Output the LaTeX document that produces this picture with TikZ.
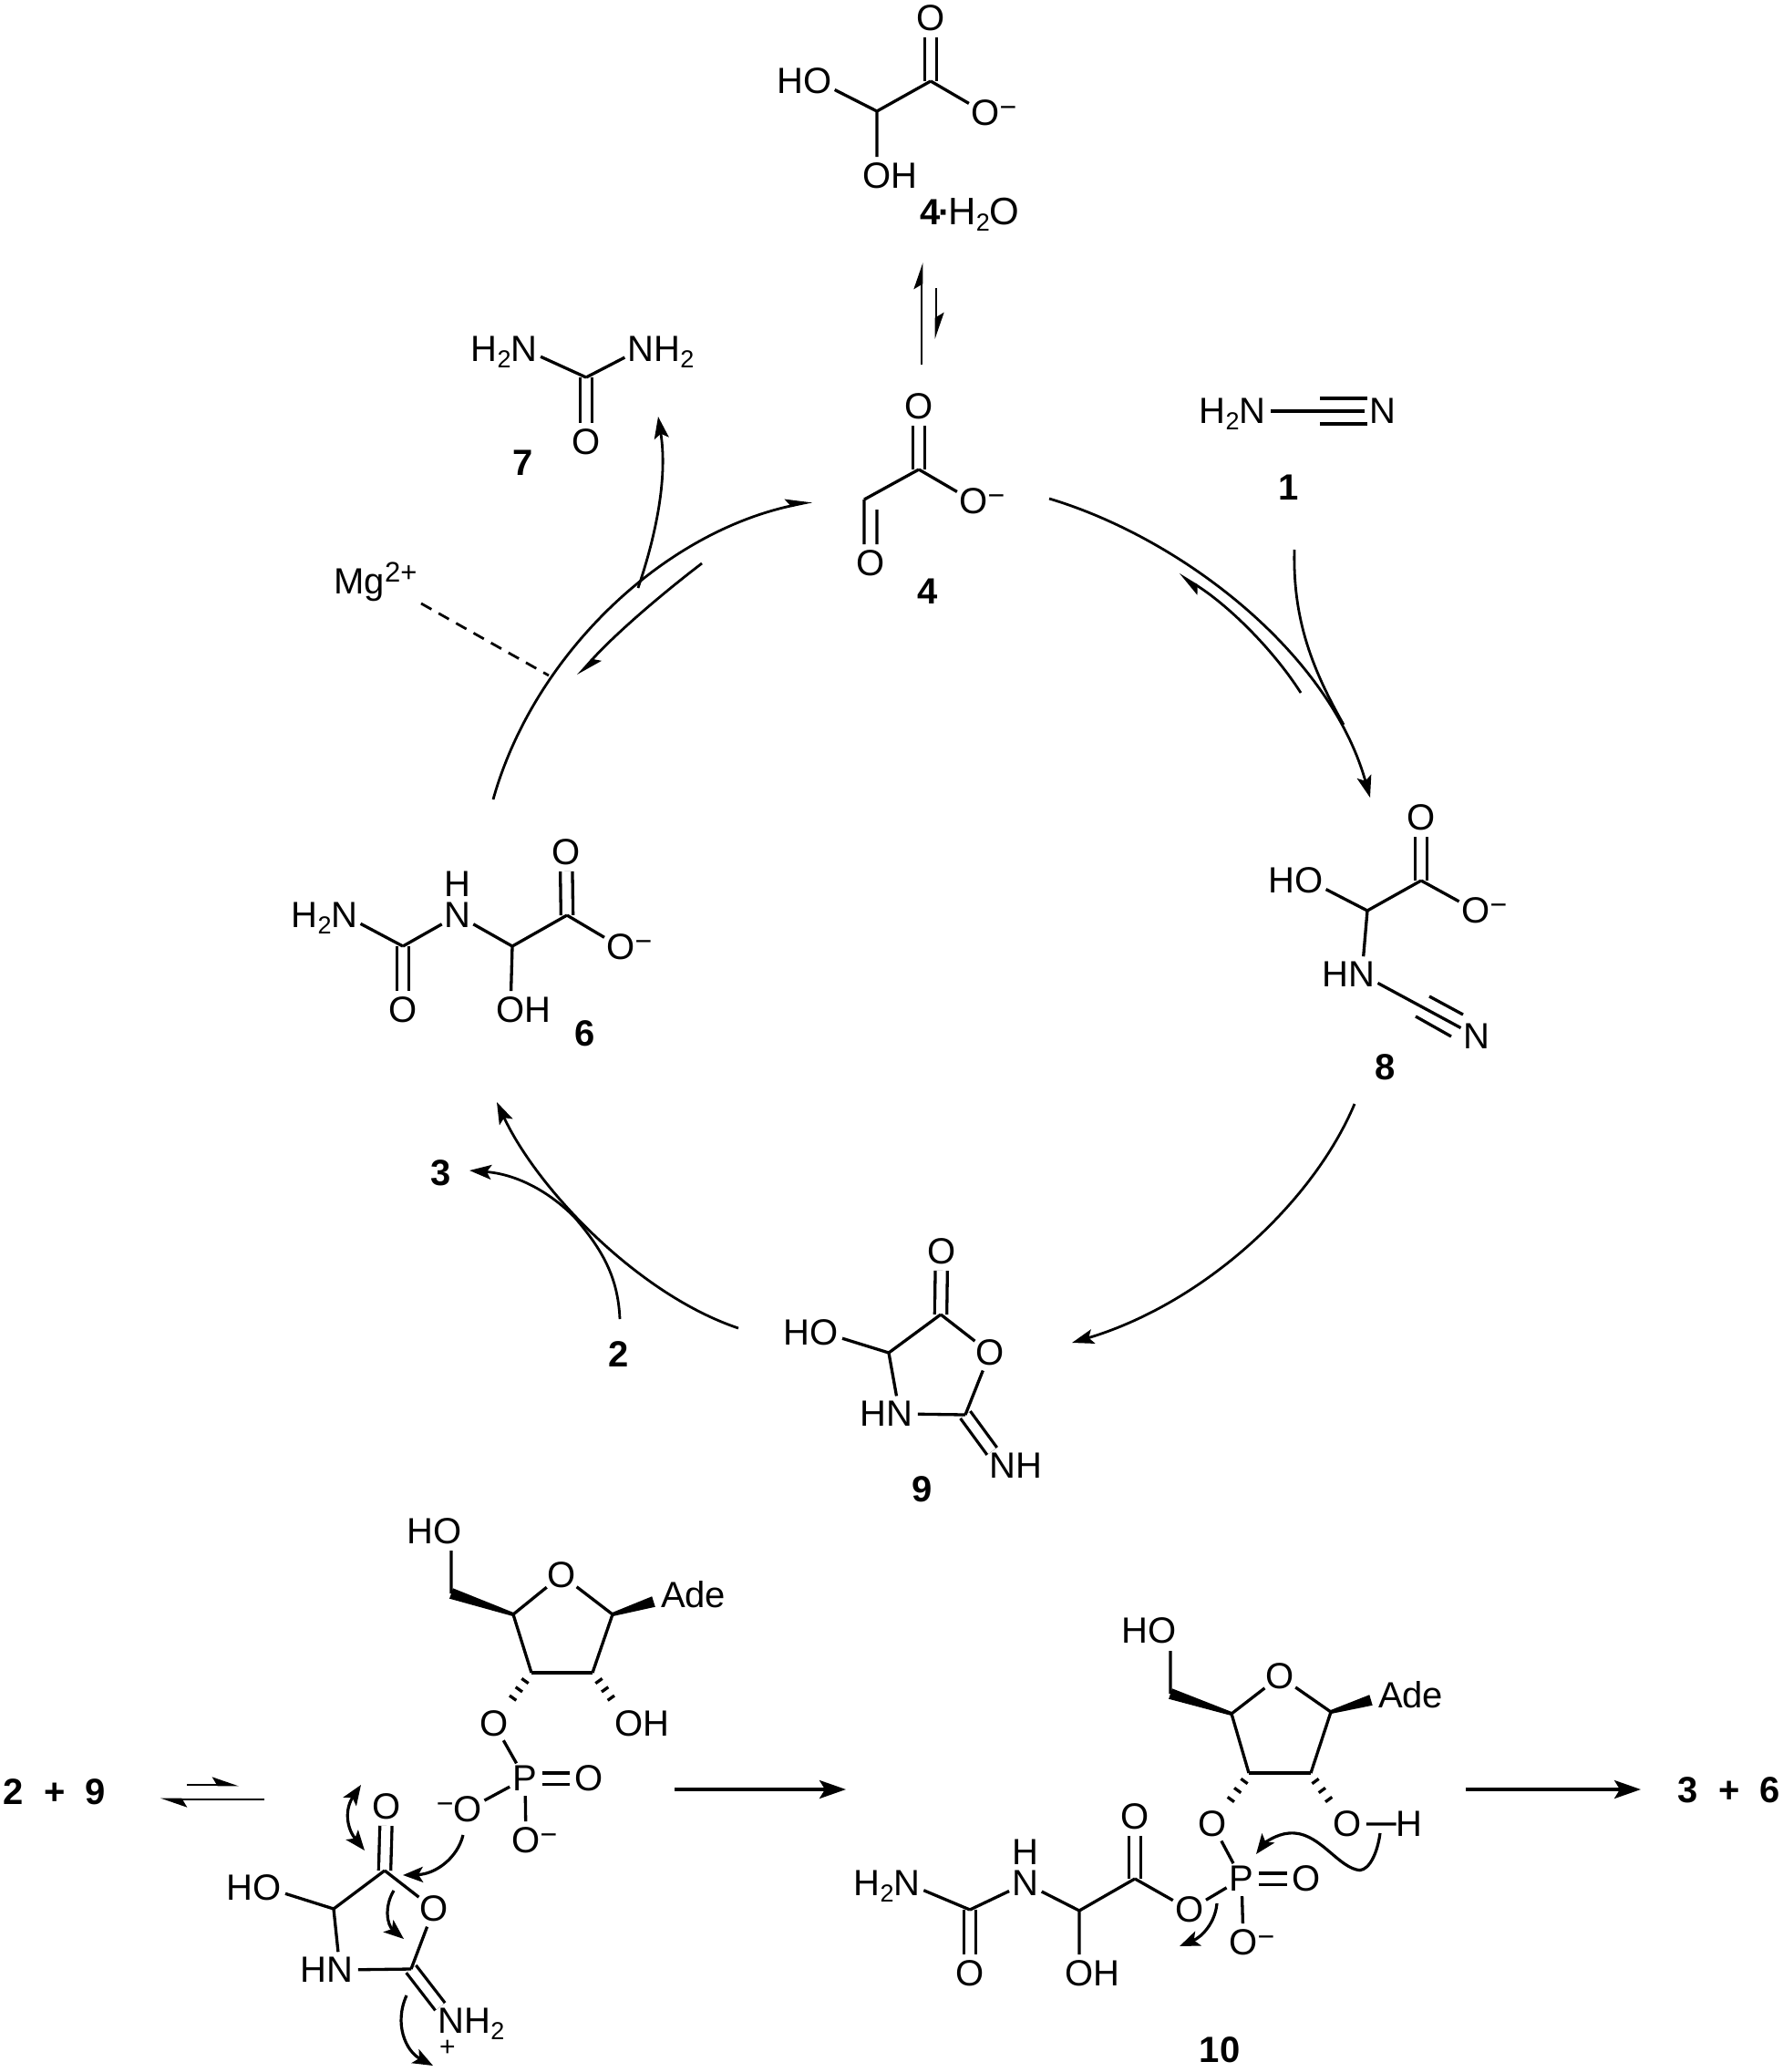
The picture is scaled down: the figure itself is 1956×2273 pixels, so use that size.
\documentclass[tikz,border=0pt]{standalone}
\usepackage{fontspec}
\setmainfont{Liberation Sans}
\usetikzlibrary{arrows.meta,calc}
\newcommand\pre[1]{\smash{\llap{#1}}}
\newcommand\suf[1]{\smash{\rlap{#1}}}
\newcommand\dn[1]{\raisebox{-7pt}{\fontsize{27}{27}\selectfont #1}}
\newcommand\up[1]{\raisebox{13pt}{\fontsize{31}{31}\selectfont #1}}
\newcommand\minusup{\raisebox{9pt}{\fontsize{32}{32}\selectfont −}}
\newcommand\hashbond[2]{\foreach \t in {0,.3333,.6667,1}{
  \coordinate (hp) at ($(#1)!\t!(#2)$);
  \draw[bond] ($(hp)!4.5pt!90:(#2)$) -- ($(hp)!4.5pt!-90:(#2)$);}}
\newcommand\wedgebond[2]{\fill ($(#2)!6pt!90:(#1)$) -- ($(#2)!6pt!-90:(#1)$) -- ($(#1)!2pt!90:(#2)$) -- ($(#1)!2pt!-90:(#2)$) -- cycle;}
\tikzset{
  bond/.style={line width=3.3pt},
  boldbond/.style={line width=4.2pt},
  dbl/.style={double,double distance=10pt,line width=3.3pt},
  pdbl/.style={double,double distance=9pt,line width=3.3pt},
  atom/.style={circle,inner sep=0pt,outer sep=0pt},
  txt/.style={inner sep=0pt,outer sep=0pt},
  num/.style={inner sep=0pt,outer sep=0pt,font=\fontsize{40}{48}\selectfont\bfseries},
  arc/.style={line width=2.8pt},
  full/.style={arc,-{Stealth[length=24pt,width=16pt,inset=5pt]}},
  half/.style={arc,-{Stealth[harpoon,length=25pt,width=17pt,inset=5pt]}},
  curly/.style={line width=3.2pt,-{Stealth[length=22pt,width=17pt,inset=5pt]}},
  curlyb/.style={line width=3.2pt,{Stealth[length=22pt,width=17pt,inset=5pt]}-{Stealth[length=22pt,width=17pt,inset=5pt]}},
  bigarrow/.style={line width=3.2pt,-{Stealth[length=29pt,width=20pt,inset=6pt]}},
}
\begin{document}
\begin{tikzpicture}[x=1pt,y=-1pt,font=\fontsize{40}{48}\selectfont]
\useasboundingbox (0,0) rectangle (1956,2273);

% ---------- 4.H2O
\coordinate (hc) at (1021,89); \coordinate (hm) at (962,122);
\node[atom] (hO1) at (1021,20) {O};
\node[atom] (hO2) at (1081,124) {O\suf{\minusup}};
\node[atom] (hO3) at (897,89) {\pre{H}O};
\node[atom] (hO4) at (962,193) {O\suf{H}};
\draw[dbl] (hc) -- (hO1);
\draw[bond] (hc) -- (hO2) (hc) -- (hm) (hm) -- (hO3) (hm) -- (hO4);
\node[txt,anchor=base west] (hlab) at (1009,246) {\textbf{4}\kern-2pt\textbf{·}\kern-2pt{\fontsize{42}{48}\selectfont H\dn{2}O}};

% equilibrium 4 / 4.H2O
\coordinate (e1a) at (1011,400); \coordinate (e1b) at (1011,288);
\coordinate (e2a) at (1027,316); \coordinate (e2b) at (1027,372);
\draw[half] (e1a) -- (e1b);
\draw[half] (e2a) -- (e2b);

% ---------- 4
\coordinate (gc) at (1008,515); \coordinate (gh) at (948,548);
\coordinate (gd1) at (948,597); \coordinate (gd2a) at (962,559); \coordinate (gd2b) at (962,597);
\node[atom] (gO1) at (1008,446) {O};
\node[atom] (gO2) at (1068,550) {O\suf{\minusup}};
\node[atom] (gO3) at (955,618) {O};
\draw[dbl] (gc) -- (gO1);
\draw[bond] (gc) -- (gO2) (gc) -- (gh) (gh) -- (gd1) (gd2a) -- (gd2b);
\node[num] (l4) at (1018,649) {4};

% ---------- 7
\coordinate (uc) at (643,414);
\node[atom] (uN1) at (575,383) {\pre{H\dn{2}}N};
\node[atom] (uN2) at (703,383) {N\suf{H\dn{2}}};
\node[atom] (uO) at (643,485) {O};
\draw[dbl] (uc) -- (uO);
\draw[bond] (uc) -- (uN1) (uc) -- (uN2);
\node[num] (l7) at (574,508) {7};

% ---------- 1
\node[atom] (cN1) at (1374,451) {\pre{H\dn{2}}N};
\node[atom] (cN2) at (1517,451) {N};
\coordinate (ct1a) at (1448,437); \coordinate (ct1b) at (1500,437);
\coordinate (ct2a) at (1448,465); \coordinate (ct2b) at (1500,465);
\draw[bond] (cN1) -- (cN2) (ct1a) -- (ct1b) (ct2a) -- (ct2b);
\node[num] (l1) at (1414,535) {1};

% ---------- 8
\coordinate (ec) at (1559,966); \coordinate (eh) at (1500,999);
\node[atom] (eO1) at (1559,897) {O};
\node[atom] (eO2) at (1619,999) {O\suf{\minusup}};
\node[atom] (eO3) at (1436,966) {\pre{H}O};
\node[atom] (eN1) at (1494,1069) {\pre{H}N};
\node[atom] (eN2) at (1620,1137) {N};
\coordinate (et1a) at (1568,1093); \coordinate (et1b) at (1605,1113);
\coordinate (et2a) at (1553,1115); \coordinate (et2b) at (1592,1137);
\draw[dbl] (ec) -- (eO1);
\draw[bond] (ec) -- (eO2) (ec) -- (eh) (eh) -- (eO3) (eh) -- (eN1) (eN1) -- (eN2)
  (et1a) -- (et1b) (et2a) -- (et2b);
\node[num] (l8) at (1520,1171) {8};

% ---------- 6
\coordinate (fu) at (442,1038); \coordinate (fh) at (562,1038); \coordinate (fc) at (622,1004);
\node[atom] (fN1) at (378,1004) {\pre{H\dn{2}}N};
\node[atom] (fN2) at (502,1004) {N};
\node[txt] (fH) at (502,970) {H};
\node[atom] (fO1) at (442,1108) {O};
\node[atom] (fO2) at (560,1108) {O\suf{H}};
\node[atom] (fO3) at (621,935) {O};
\node[atom] (fO4) at (681,1039) {O\suf{\minusup}};
\draw[dbl] (fu) -- (fO1);
\draw[dbl] (fc) -- (fO3);
\draw[bond] (fN1) -- (fu) (fu) -- (fN2) (fN2) -- (fh) (fh) -- (fO2) (fh) -- (fc) (fc) -- (fO4);
\node[num] (l6) at (642,1134) {6};

% ---------- 9
\coordinate (nc) at (1032,1442); \coordinate (nh) at (975,1484); \coordinate (nq) at (1059,1552);
\node[atom] (nO1) at (1033,1373) {O};
\node[atom] (nO2) at (904,1462) {\pre{H}O};
\node[atom] (nO3) at (1086,1484) {O};
\node[atom] (nN1) at (987,1551) {\pre{H}N};
\node[atom] (nN2) at (1100,1608) {N\suf{H}};
\draw[dbl] (nc) -- (nO1);
\draw[dbl] (nq) -- (nN2);
\draw[bond] (nc) -- (nh) (nc) -- (nO3) (nh) -- (nO2) (nh) -- (nN1) (nN1) -- (nq) (nq) -- (nO3);
\node[num] (l9) at (1012,1634) {9};

% ---------- cycle arrows
\coordinate (a48s) at (1151,547); \coordinate (a48e) at (1503,875);
\draw[full] (a48s) .. controls (1295,590) and (1458,715) .. (a48e);
\coordinate (a84s) at (1427,760); \coordinate (a84e) at (1293,630);
\draw[half] (a84s) .. controls (1395,710) and (1345,662) .. (a84e);
\coordinate (a1s) at (1420,603); \coordinate (a1e) at (1474,795);
\draw[arc] (a1s) .. controls (1418,680) and (1440,735) .. (a1e);
\coordinate (a89s) at (1486,1211); \coordinate (a89e) at (1176,1473);
\draw[full] (a89s) .. controls (1440,1320) and (1320,1430) .. (a89e);
\coordinate (a96s) at (810,1457); \coordinate (a96e) at (545,1209);
\draw[full] (a96s) .. controls (700,1420) and (590,1305) .. (a96e);
\coordinate (a23s) at (680,1447); \coordinate (a23m) at (630,1335); \coordinate (a23e) at (515,1284);
\draw[full] (a23s) .. controls (678,1400) and (660,1370) .. (a23m) .. controls (600,1305) and (565,1288) .. (a23e);
\coordinate (a64s) at (541,877); \coordinate (a64e) at (891,550);
\draw[half] (a64s) .. controls (585,720) and (725,585) .. (a64e);
\coordinate (a46s) at (770,618); \coordinate (a46e) at (634,741);
\draw[half] (a46s) .. controls (728,650) and (675,695) .. (a46e);
\coordinate (a7s) at (700,645); \coordinate (a7e) at (722,457);
\draw[full] (a7s) .. controls (722,580) and (732,520) .. (a7e);

\node[num] (l3) at (484,1287) {3};
\node[num] (l2) at (679,1486) {2};
\node[txt] (mg) at (412,638) {Mg\up{2+}};
\coordinate (mgs) at (462,662); \coordinate (mge) at (602,741);
\draw[line width=2.8pt,dash pattern=on 13pt off 9pt] (mgs) -- (mge);

% ---------- bottom equation
\node[num] (eqA) at (60,1966) {2~~+~~9};
\coordinate (q1a) at (205,1958); \coordinate (q1b) at (262,1958);
\coordinate (q2a) at (290,1974); \coordinate (q2b) at (176,1974);
\draw[half] (q1a) -- (q1b);
\draw[half] (q2a) -- (q2b);

% ---------- adenosine A
\coordinate (aCH) at (495,1748); \coordinate (a4) at (563,1771); \coordinate (a1) at (672,1771);
\coordinate (a2) at (650,1835); \coordinate (a3) at (583,1835);
\coordinate (aWe) at (717,1757); \coordinate (aH3a) at (576,1844); \coordinate (aH3b) at (556,1872);
\coordinate (aH2a) at (657,1844); \coordinate (aH2b) at (677,1872);
\node[atom] (aOh) at (491,1680) {\pre{H}O};
\node[atom] (aOr) at (616,1728) {O};
\node[txt,anchor=west] (aAde) at (725,1749) {Ade};
\node[atom] (aO3) at (542,1891) {O};
\node[atom] (aO2) at (690,1891) {O\suf{H}};
\node[atom] (aP) at (576,1951) {P};
\node[atom] (aOd) at (646,1951) {O};
\node[atom] (aOl) at (513,1985) {\pre{\minusup}O};
\node[atom] (aOb) at (577,2019) {O\suf{\minusup}};
\draw[pdbl] (aP) -- (aOd);
\coordinate (aOhb) at (495,1701);
\draw[bond] (aOhb) -- (aCH) (a4) -- (aOr) (aOr) -- (a1) (a1) -- (a2) (a3) -- (a4)
   (aO3) -- (aP) (aP) -- (aOl) (aP) -- (aOb);
\draw[boldbond] (a2) -- (a3);
\wedgebond{a4}{aCH}
\wedgebond{a1}{aWe}
\hashbond{aH3a}{aH3b}
\hashbond{aH2a}{aH2b}

% ---------- oxazolone in A
\coordinate (zc) at (422,2052); \coordinate (zh) at (366,2094); \coordinate (zq) at (451,2160);
\node[atom] (zO1) at (424,1982) {O};
\node[atom] (zO2) at (293,2071) {\pre{H}O};
\node[atom] (zO3) at (476,2094) {O};
\node[atom] (zN1) at (373,2161) {\pre{H}N};
\node[atom] (zN2) at (495,2217) {N\suf{H\dn{2}}};
\node[txt,font=\fontsize{30}{30}\selectfont] (zP) at (491,2247) {+};
\draw[dbl] (zc) -- (zO1);
\draw[dbl] (zq) -- (zN2);
\draw[bond] (zc) -- (zh) (zc) -- (zO3) (zh) -- (zO2) (zh) -- (zN1) (zN1) -- (zq) (zq) -- (zO3);
\coordinate (ca1) at (396,1958); \coordinate (ca2) at (400,2030);
\draw[curlyb] (ca1) .. controls (378,1985) and (380,2005) .. (ca2);
\coordinate (cb1) at (508,2013); \coordinate (cb2) at (442,2057);
\draw[curly] (cb1) .. controls (502,2038) and (478,2056) .. (cb2);
\coordinate (cc1) at (432,2074); \coordinate (cc2) at (443,2127);
\draw[curly] (cc1) .. controls (421,2092) and (425,2112) .. (cc2);
\coordinate (cd1) at (446,2189); \coordinate (cd2) at (475,2266);
\draw[curly] (cd1) .. controls (432,2220) and (445,2250) .. (cd2);

\coordinate (m1a) at (740,1963); \coordinate (m1b) at (928,1963);
\draw[bigarrow] (m1a) -- (m1b);

% ---------- molecule B (10)
\coordinate (bCH) at (1284,1858); \coordinate (b4) at (1351,1880); \coordinate (b1) at (1460,1878);
\coordinate (b2) at (1438,1945); \coordinate (b3) at (1370,1945);
\coordinate (bWe) at (1504,1865); \coordinate (bH3a) at (1365,1954); \coordinate (bH3b) at (1343,1984);
\coordinate (bH2a) at (1443,1954); \coordinate (bH2b) at (1465,1984);
\node[atom] (bOh) at (1275,1789) {\pre{H}O};
\node[atom] (bOr) at (1404,1839) {O};
\node[txt,anchor=west] (bAde) at (1512,1859) {Ade};
\node[atom] (bO3) at (1330,2001) {O};
\node[atom] (bO2) at (1478,2001) {O};
\node[txt] (bH) at (1546,2001) {H};
\node[atom] (bP) at (1362,2061) {P};
\node[atom] (bOd) at (1433,2061) {O};
\node[atom] (bOe) at (1305,2095) {O};
\node[atom] (bOb) at (1364,2131) {O\suf{\minusup}};
\coordinate (bC) at (1245,2061); \coordinate (bM) at (1184,2096); \coordinate (bU) at (1064,2095);
\node[atom] (bOt) at (1245,1993) {O};
\node[atom] (bOm) at (1184,2165) {O\suf{H}};
\node[atom] (bNh) at (1125,2066) {N};
\node[txt] (bNH) at (1125,2032) {H};
\node[atom] (bOu) at (1064,2165) {O};
\node[atom] (bNa) at (995,2066) {\pre{H\dn{2}}N};
\draw[pdbl] (bP) -- (bOd);
\draw[dbl] (bC) -- (bOt);
\draw[dbl] (bU) -- (bOu);
\coordinate (bOhb) at (1284,1811);
\draw[bond] (bOhb) -- (bCH) (b4) -- (bOr) (bOr) -- (b1) (b1) -- (b2) (b3) -- (b4)
   (bO3) -- (bP) (bP) -- (bOe) (bP) -- (bOb) (bOe) -- (bC) (bC) -- (bM) (bM) -- (bOm) (bM) -- (bNh)
   (bNh) -- (bU) (bU) -- (bNa) (bO2) -- (bH);
\draw[boldbond] (b2) -- (b3);
\wedgebond{b4}{bCH}
\wedgebond{b1}{bWe}
\hashbond{bH3a}{bH3b}
\hashbond{bH2a}{bH2b}
\coordinate (ce1) at (1514,2011); \coordinate (ce2) at (1488,2051); \coordinate (ce3) at (1414,2011); \coordinate (ce4) at (1378,2034);
\draw[curly] (ce1) .. controls (1510,2040) and (1498,2055) .. (ce2) .. controls (1465,2045) and (1445,2008) .. (ce3) .. controls (1400,2012) and (1387,2022) .. (ce4);
\coordinate (cf1) at (1335,2088); \coordinate (cf2) at (1294,2135);
\draw[curly] (cf1) .. controls (1333,2110) and (1318,2125) .. (cf2);
\node[num] (l10) at (1338,2249) {10};

\coordinate (m2a) at (1608,1963); \coordinate (m2b) at (1800,1963);
\draw[bigarrow] (m2a) -- (m2b);
\node[num] (eqB) at (1897,1964) {3~~+~~6};
\end{tikzpicture}
\end{document}
